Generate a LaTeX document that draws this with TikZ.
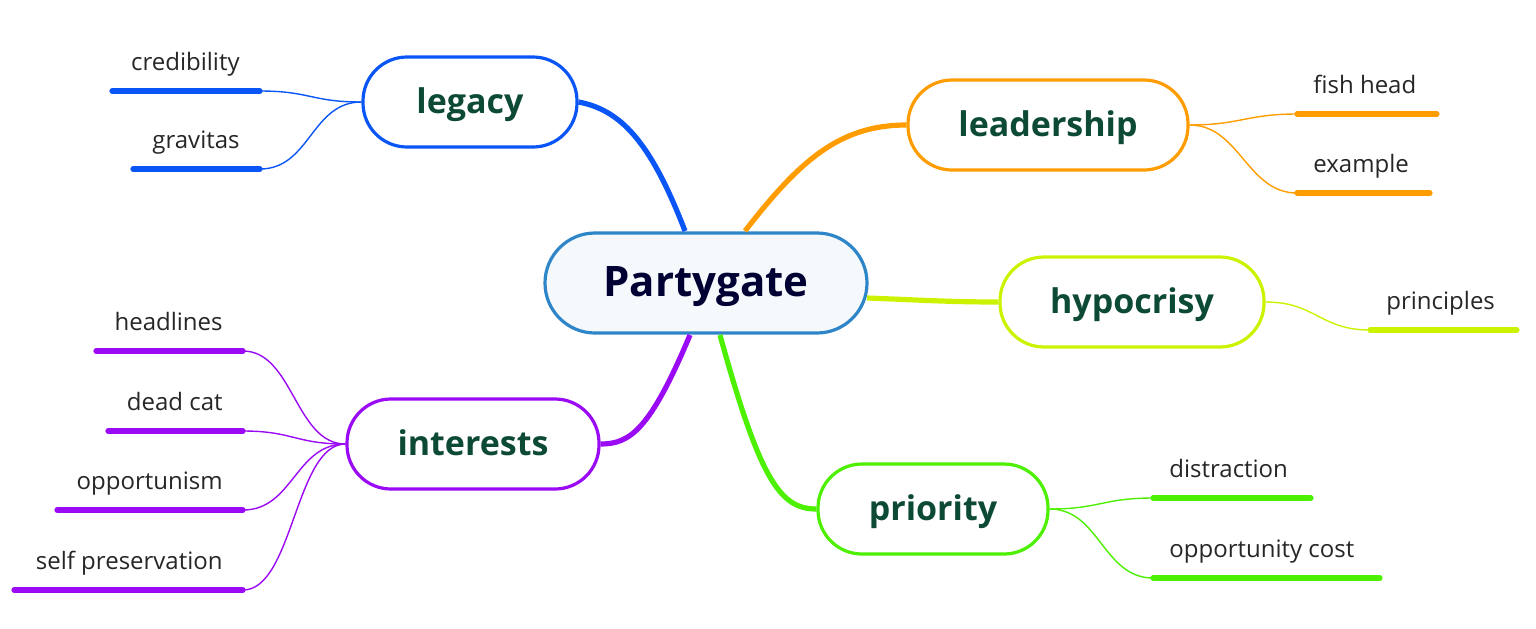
\documentclass[tikz,border=0pt]{standalone}
\usepackage{fontspec}
\setmainfont{Open Sans}
\definecolor{cblue}{HTML}{0A55F5}
\definecolor{corange}{HTML}{FF9C00}
\definecolor{cyell}{HTML}{CCF200}
\definecolor{cpurp}{HTML}{9A0AF5}
\definecolor{cgreen}{HTML}{4CF000}
\definecolor{ctext}{HTML}{0D4A36}
\definecolor{ccen}{HTML}{2E86C8}
\begin{document}
\begin{tikzpicture}[x=0.5pt,y=-0.5pt,
 topic/.style={draw=#1,line width=1.6pt,rounded corners=22pt,fill=white,font=\fontsize{17}{19}\selectfont\bfseries,text=ctext,inner sep=0pt,text depth=1pt},
 leaf/.style={font=\fontsize{12}{14}\selectfont,text=black!85,anchor=base,inner sep=0pt},
 uline/.style={line width=2.6pt,line cap=round,draw=#1},
 br/.style={line width=2.6pt,draw=#1},
 tw/.style={line width=0.7pt,draw=#1}]
\useasboundingbox (0,0) rectangle (1536,628);
\node[draw=ccen,line width=1.6pt,rounded corners=25pt,fill=ccen!5,minimum width=161pt,minimum height=50pt,text depth=2pt,font=\fontsize{21}{24}\selectfont\bfseries,text=black!50!blue!40!black] (c) at (706,283) {Partygate};
\node[topic=cblue,minimum width=107pt,minimum height=45pt] (leg) at (470,102) {legacy};
\node[topic=corange,minimum width=140pt,minimum height=45pt] (lea) at (1048,125) {leadership};
\node[topic=cyell,minimum width=132pt,minimum height=45pt] (hyp) at (1132,302) {hypocrisy};
\node[topic=cpurp,minimum width=126pt,minimum height=45pt] (int) at (473,444) {interests};
\node[topic=cgreen,minimum width=115pt,minimum height=45pt] (pri) at (933,509) {priority};
\coordinate (c1) at (685,231); \coordinate (c2) at (745,231);
\coordinate (c3) at (867,298); \coordinate (c4) at (690,335); \coordinate (c5) at (720,335);
\draw[br=cblue] (c1) .. controls (650,140) and (620,110) .. (leg.east);
\draw[br=corange] (c2) .. controls (800,160) and (840,125) .. (lea.west);
\draw[br=cyell] (c3) .. controls (920,300) and (950,302) .. (hyp.west);
\draw[br=cpurp] (c4) .. controls (650,430) and (630,444) .. (int.east);
\draw[br=cgreen] (c5) .. controls (760,480) and (780,509) .. (pri.west);
\foreach \n/\t/\xa/\xb/\y/\p/\s/\col in {
 l1/credibility/112/260/91/leg.west/r/cblue,
 l2/gravitas/133/260/169/leg.west/r/cblue,
 l3/fish head/1297/1437/114/lea.east/l/corange,
 l4/example/1297/1430/193/lea.east/l/corange,
 l5/principles/1370/1517/330/hyp.east/l/cyell,
 l6/headlines/96/243/351/int.west/r/cpurp,
 l7/dead cat/108/243/431/int.west/r/cpurp,
 l8/opportunism/57/243/510/int.west/r/cpurp,
 l9/self preservation/14/243/590/int.west/r/cpurp,
 l10/distraction/1153/1311/498/pri.east/l/cgreen,
 l11/opportunity cost/1153/1380/578/pri.east/l/cgreen}{
 \coordinate (\n a) at (\xa,\y); \coordinate (\n b) at (\xb,\y);
 \draw[uline=\col] (\n a) -- (\n b);
 \if l\s
   \node[leaf,anchor=base west] (\n) at ([xshift=8pt,yshift=10.5pt]\n a) {\t};
   \draw[tw=\col] (\p) .. controls +(50,0) and +(-50,0) .. (\n a);
 \else
   \node[leaf,anchor=base east] (\n) at ([xshift=-10pt,yshift=10.5pt]\n b) {\t};
   \draw[tw=\col] (\p) .. controls +(-50,0) and +(50,0) .. (\n b);
 \fi}
\end{tikzpicture}
\end{document}
